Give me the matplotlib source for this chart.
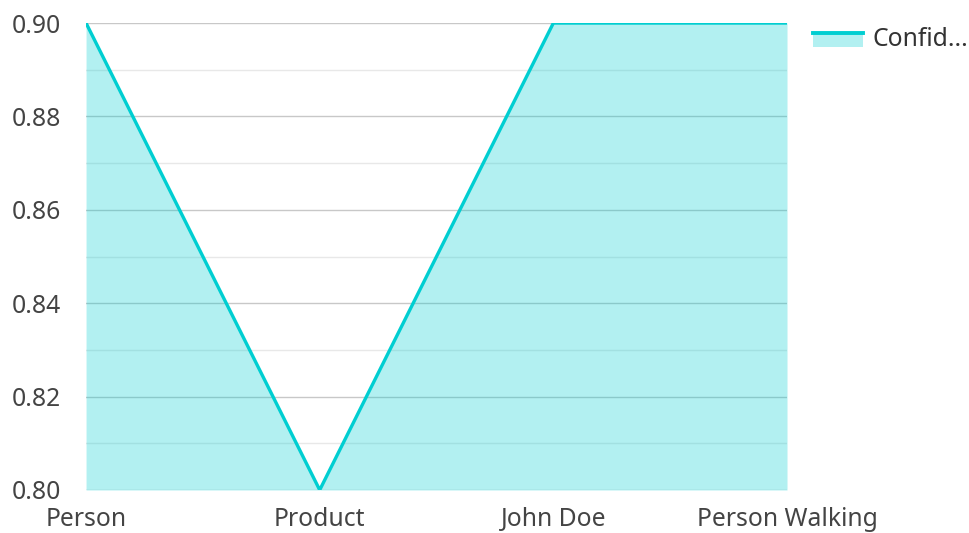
import matplotlib.pyplot as plt
from matplotlib.patches import Rectangle
from matplotlib.lines import Line2D
from matplotlib.legend_handler import HandlerBase

plt.rcParams['font.family'] = ['Noto Sans', 'DejaVu Sans']

labels = ["Person", "Product", "John Doe", "Person Walking"]
confidence = [0.90, 0.80, 0.90, 0.90]
series_name = "Confid..."

teal = "#00CED1"

fig = plt.figure(figsize=(9.69, 5.33), dpi=100)
ax = fig.add_axes([0.0888, 0.0807, 0.7234, 0.8761])

xs = range(len(labels))
ax.fill_between(xs, confidence, 0.80, color=teal, alpha=0.3, lw=0, zorder=2)
ax.plot(xs, confidence, color=teal, lw=2.4, zorder=3, solid_capstyle="butt")

ax.set_xlim(0, len(labels) - 1)
ax.set_ylim(0.80, 0.90)
ax.set_xticks(list(xs))
ax.set_xticklabels(labels)
ax.set_yticks([0.80, 0.82, 0.84, 0.86, 0.88, 0.90])
ax.set_yticklabels(["0.80", "0.82", "0.84", "0.86", "0.88", "0.90"])
ax.set_yticks([0.81, 0.83, 0.85, 0.87, 0.89], minor=True)
ax.grid(axis="y", which="major", color="#c8c8c8", lw=1, zorder=1)
ax.grid(axis="y", which="minor", color="#e8e8e8", lw=1, zorder=1)
ax.set_axisbelow(True)
ax.tick_params(axis="both", which="both", length=0, labelsize=17.8, colors="#444444")
ax.tick_params(axis="y", pad=18)
ax.tick_params(axis="x", pad=12)
for s in ax.spines.values():
    s.set_visible(False)


class AreaHandler(HandlerBase):
    def create_artists(self, legend, orig, xd, yd, w, h, fontsize, trans):
        r = Rectangle((xd, yd), w, h, facecolor=teal, alpha=0.3, lw=0, transform=trans)
        ln = Line2D([xd, xd + w], [yd + h, yd + h], color=teal, lw=2.8, transform=trans)
        return [r, ln]


handle = Rectangle((0, 0), 1, 1)
fig.legend([handle], [series_name], handler_map={Rectangle: AreaHandler()},
           loc="upper left", bbox_to_anchor=(0.816, 0.992), frameon=False,
           fontsize=17.8, handlelength=2.02, handleheight=0.49, handletextpad=0.4,
           labelcolor="#333333")

fig.savefig("out.png", dpi=100)
